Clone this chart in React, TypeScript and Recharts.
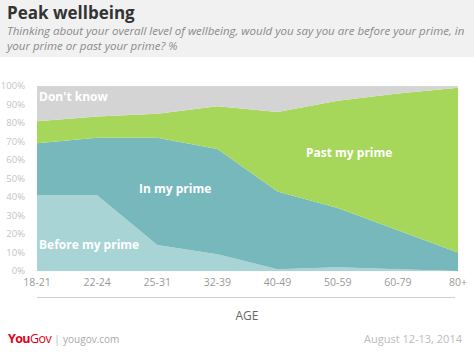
import { AreaChart, Area, XAxis, YAxis } from 'recharts';

// age groups on the x axis
const ages = ['18-21', '22-24', '25-31', '32-39', '40-49', '50-59', '60-79', '80+'];

// answers in % (stacked bottom to top)
const beforePrime = [41, 41, 14, 9, 1, 2, 1, 0];
const inPrime = [28, 31, 58, 57, 42, 32, 21, 10];
const pastPrime = [12, 11.5, 13, 23, 43, 58, 74, 89];
const dontKnow = [19, 16.5, 15, 11, 14, 8, 4, 1];

const yTicks = [0, 10, 20, 30, 40, 50, 60, 70, 80, 90, 100];

const data = ages.map((age, i) => ({
  age,
  before: beforePrime[i],
  inPrime: inPrime[i],
  past: pastPrime[i],
  dk: dontKnow[i],
}));

const font = '"Open Sans", "DejaVu Sans", sans-serif';

const areaLabel: React.CSSProperties = {
  position: 'absolute',
  color: '#fff',
  fontWeight: 700,
  fontSize: 12,
  whiteSpace: 'nowrap',
  lineHeight: '16px',
};

export default function App() {
  return (
    <div style={{ position: 'absolute', left: 0, top: 0, width: 474, height: 353, background: '#fff', fontFamily: font, overflow: 'hidden' }}>
      {/* header band */}
      <div style={{ position: 'absolute', left: 0, top: 0, width: 474, height: 57, background: '#f1f1f1' }} />
      <div style={{ position: 'absolute', left: 7, top: 1, fontSize: 17, fontWeight: 700, color: '#333', lineHeight: '24px' }}>Peak wellbeing</div>
      <div style={{ position: 'absolute', left: 7, top: 23, width: 462, fontSize: 11.5, fontStyle: 'italic', color: '#8a8a8a', lineHeight: '15px' }}>
        Thinking about your overall level of wellbeing, would you say you are before your prime, in your prime or past your prime? %
      </div>

      <div style={{ position: 'absolute', left: 0, top: 0 }}>
        <AreaChart width={474} height={301} data={data} margin={{ top: 86, right: 16, left: 0, bottom: 0 }}>
          <XAxis
            dataKey="age"
            interval={0}
            axisLine={false}
            tickLine={false}
            height={30}
            tick={{ fill: '#999', fontSize: 10.5, fontFamily: font }}
          />
          <YAxis
            domain={[0, 100]}
            ticks={yTicks}
            width={37}
            axisLine={false}
            tickLine={false}
            tickSize={10}
            tickFormatter={(v) => `${v}%`}
            tick={{ fill: '#c4c4c4', fontSize: 9.5, fontFamily: font }}
          />
          <Area type="linear" dataKey="before" stackId="a" stroke="none" fill="#a9d4d6" fillOpacity={1} isAnimationActive={false} />
          <Area type="linear" dataKey="inPrime" stackId="a" stroke="none" fill="#77b8bd" fillOpacity={1} isAnimationActive={false} />
          <Area type="linear" dataKey="past" stackId="a" stroke="none" fill="#a6d75b" fillOpacity={1} isAnimationActive={false} />
          <Area type="linear" dataKey="dk" stackId="a" stroke="none" fill="#d4d4d4" fillOpacity={1} isAnimationActive={false} />
        </AreaChart>
      </div>

      <div style={{ ...areaLabel, left: 39, top: 89 }}>Don't know</div>
      <div style={{ ...areaLabel, left: 139, top: 181 }}>In my prime</div>
      <div style={{ ...areaLabel, left: 39, top: 237 }}>Before my prime</div>
      <div style={{ ...areaLabel, left: 306, top: 145 }}>Past my prime</div>

      {/* axis line under tick labels */}
      <div style={{ position: 'absolute', left: 37, top: 297, width: 418, height: 1, background: '#cfcfcf' }} />
      <div style={{ position: 'absolute', left: 0, width: 494, top: 307, textAlign: 'center', fontSize: 12, color: '#666' }}>AGE</div>

      {/* footer */}
      <div style={{ position: 'absolute', left: 8, top: 330, fontSize: 12.5, whiteSpace: 'nowrap' }}>
        <span style={{ color: '#e2001a', fontWeight: 700, letterSpacing: -0.6 }}>You</span>
        <span style={{ color: '#e2001a', letterSpacing: -0.6 }}>Gov</span>
        <span style={{ color: '#bbb', margin: '0 3px', fontSize: 11 }}>|</span>
        <span style={{ color: '#aaa', fontSize: 10 }}>yougov.com</span>
      </div>
      <div style={{ position: 'absolute', right: 12, top: 331, fontSize: 11, color: '#bbb' }}>August 12-13, 2014</div>
    </div>
  );
}
